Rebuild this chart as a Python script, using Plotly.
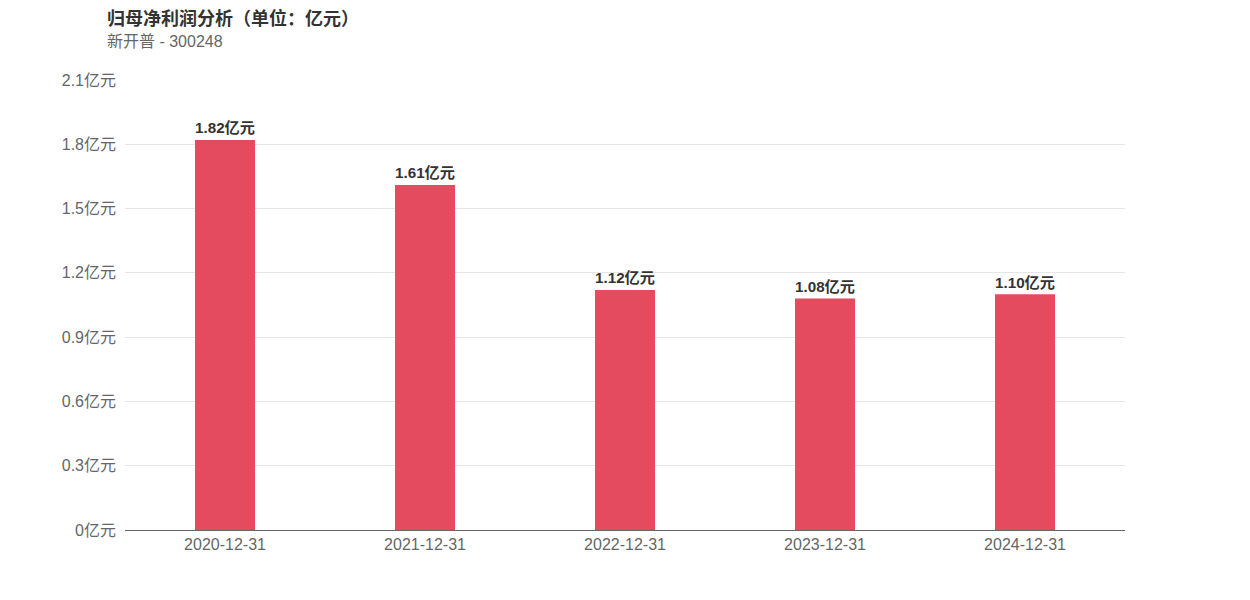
import plotly.graph_objects as go

categories = ["2020-12-31", "2021-12-31", "2022-12-31", "2023-12-31", "2024-12-31"]
values = [1.82, 1.61, 1.12, 1.08, 1.10]
labels = [f"{v:.2f}亿元" for v in values]
tick_vals = [0, 0.3, 0.6, 0.9, 1.2, 1.5, 1.8, 2.1]
tick_text = ["0亿元", "0.3亿元", "0.6亿元", "0.9亿元", "1.2亿元", "1.5亿元", "1.8亿元", "2.1亿元"]

font_family = "Liberation Sans, Noto Sans CJK SC, sans-serif"

fig = go.Figure(go.Bar(
    x=categories, y=values, text=labels, textposition="outside",
    texttemplate="<b>%{text}</b>",
    textfont=dict(size=17, color="#333333", family=font_family),
    marker=dict(color="#E54B5F", line=dict(width=0)),
    cliponaxis=False, hoverinfo="skip",
))

fig.update_layout(
    width=1250, height=600,
    margin=dict(l=117, r=133, t=72, b=78),
    plot_bgcolor="white", paper_bgcolor="white",
    bargap=0.7, showlegend=False,
    font=dict(family=font_family, color="#666666", size=16),
    xaxis=dict(type="category", showgrid=False, showline=True, linecolor="#666666", linewidth=1,
               ticks="", tickfont=dict(size=16, color="#666666"), fixedrange=True),
    yaxis=dict(range=[0, 2.1], tickvals=tick_vals, ticktext=tick_text,
               showgrid=True, gridcolor="#E6E6E6", gridwidth=1, zeroline=False,
               showline=False, ticks="", ticklabelstandoff=8,
               tickfont=dict(size=16, color="#666666")),
    annotations=[
        dict(text="<b>归母净利润分析（单位：亿元）</b>", xref="paper", yref="paper",
             x=-0.02, y=1 + (72 - 11) / 450, xanchor="left", yanchor="middle",
             showarrow=False, font=dict(size=18, color="#333333", family=font_family)),
        dict(text="新开普 - 300248", xref="paper", yref="paper",
             x=-0.02, y=1 + (72 - 33) / 450, xanchor="left", yanchor="middle",
             showarrow=False, font=dict(size=16, color="#666666", family=font_family)),
    ],
)

fig.write_html("out.html")
